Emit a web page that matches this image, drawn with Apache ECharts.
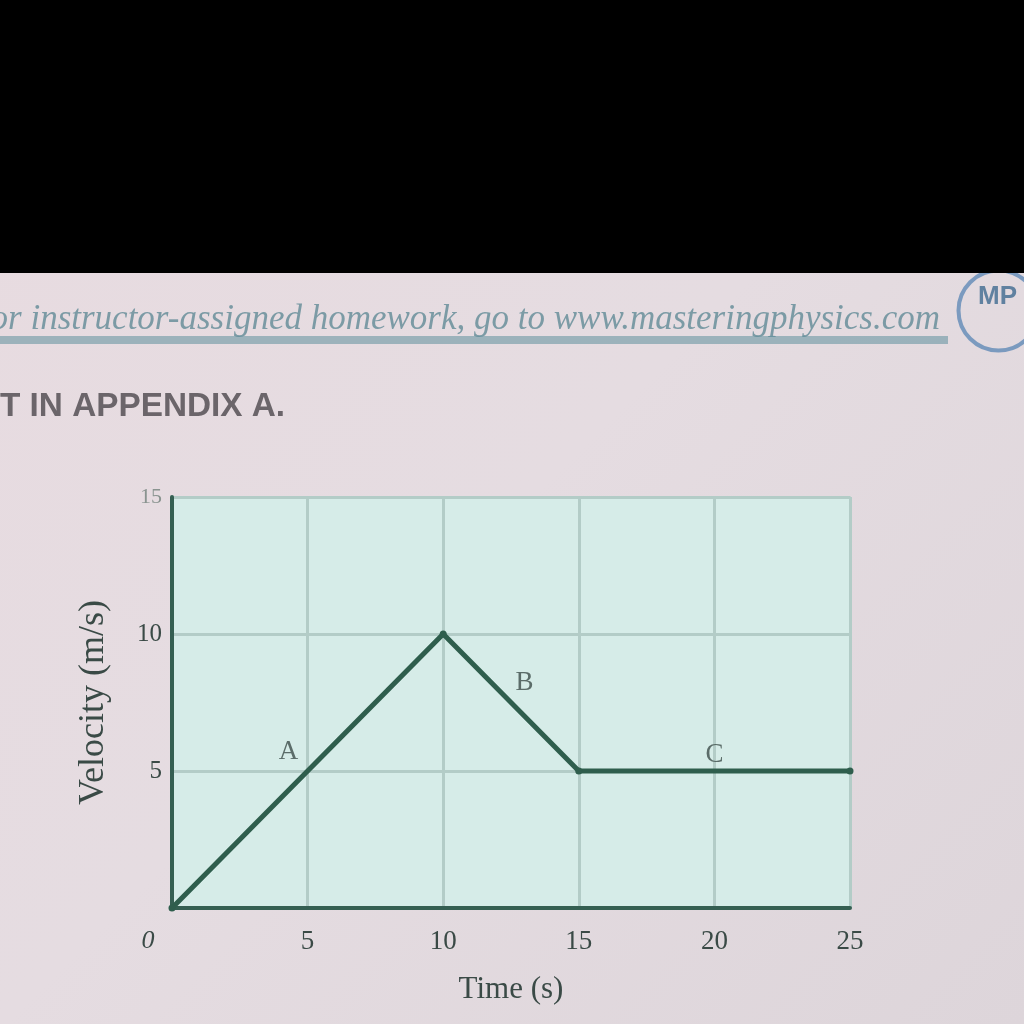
<!DOCTYPE html>
<html><head><meta charset="utf-8">
<script src="https://cdn.jsdelivr.net/npm/echarts@6/dist/echarts.min.js"></script>
<style>html,body{margin:0;padding:0;background:#e4dce0;}#c{width:1024px;height:1024px;}</style>
</head><body><div id="c"></div>
<script>
// Data
const times = [0, 10, 15, 25];
const velocities = [0, 10, 5, 5];
const segmentLabels = ['A', 'B', 'C'];
const labelTimes = [4.3, 13, 20];
const labelVelocities = [5.7, 8.2, 5.6];
const xTicks = [0, 5, 10, 15, 20, 25];
const yTicks = [0, 5, 10, 15];

const chart = echarts.init(document.getElementById('c'));
const serif = '"Liberation Serif", "DejaVu Serif", serif';
const ink = '#3a4a46';
chart.setOption({
  backgroundColor: {
    type: 'linear', x: 0, y: 0, x2: 1, y2: 1,
    colorStops: [{offset: 0, color: '#e8dbe0'}, {offset: 0.5, color: '#e5dce1'}, {offset: 1, color: '#ddd5da'}]
  },
  animation: false,
  graphic: [
    {type: 'rect', left: 0, top: 0, shape: {width: 1024, height: 273}, style: {fill: '#000'}, z: 10},
    {type: 'text', right: 84, top: 302, style: {text: 'For instructor-assigned homework, go to www.masteringphysics.com', fill: '#4f7f8c', font: 'italic 35px ' + serif, opacity: 0.7}},
    {type: 'rect', left: 0, top: 336, shape: {width: 948, height: 8}, style: {fill: '#5f909c', opacity: 0.55}},
    {type: 'circle', left: 956, top: 268, shape: {r: 40}, style: {fill: 'none', stroke: '#4f7fb0', lineWidth: 4, opacity: 0.7}},
    {type: 'text', left: 978, top: 284, style: {text: 'MP', fill: '#3f6a90', font: 'bold 26px "Liberation Sans", sans-serif', opacity: 0.8}},
    {type: 'text', left: 0, top: 390, scaleX: 0.98, style: {text: 'T IN APPENDIX A.', fill: '#555055', font: 'bold 34px "Liberation Sans", sans-serif', opacity: 0.85}}
  ],
  grid: {
    left: 172, right: 174, top: 497, bottom: 116,
    show: true, backgroundColor: '#d6ece8', borderColor: '#c6d4d1', borderWidth: 2
  },
  xAxis: {
    type: 'value', min: 0, max: 25, interval: 5,
    name: 'Time (s)', nameLocation: 'middle', nameGap: 66,
    nameTextStyle: {fontFamily: serif, fontSize: 31, color: ink},
    axisLine: {show: true, lineStyle: {color: '#355f52', width: 4}},
    axisTick: {show: false},
    splitLine: {show: true, lineStyle: {color: '#b3ccc7', width: 3}},
    axisLabel: {
      margin: 20, fontFamily: serif, fontSize: 27, color: ink,
      formatter: v => v === 0 ? '{z|0}' : String(v),
      rich: {z: {fontFamily: serif, fontSize: 26, fontStyle: 'italic', color: ink, padding: [0, 48, 0, 0]}}
    }
  },
  yAxis: {
    type: 'value', min: 0, max: 15, interval: 5,
    name: 'Velocity (m/s)', nameLocation: 'middle', nameGap: 60,
    nameTextStyle: {fontFamily: serif, fontSize: 36, color: ink},
    axisLine: {show: true, lineStyle: {color: '#355f52', width: 4}},
    axisTick: {show: false},
    splitLine: {show: true, lineStyle: {color: '#b3ccc7', width: 3}},
    axisLabel: {
      margin: 10, fontFamily: serif, fontSize: 25, color: ink,
      formatter: v => v === 0 ? '' : (v === 15 ? '{f|15}' : String(v)),
      rich: {f: {fontFamily: serif, fontSize: 22, color: '#8a9490'}}
    }
  },
  series: [
    {
      type: 'line', data: times.map((t, i) => [t, velocities[i]]),
      symbol: 'circle', symbolSize: 7, showSymbol: true,
      itemStyle: {color: '#2f5e4d'},
      lineStyle: {color: '#2f5e4d', width: 5}, z: 5
    },
    {
      type: 'scatter', symbolSize: 0,
      data: labelTimes.map((t, i) => ({value: [t, labelVelocities[i]], name: segmentLabels[i]})),
      label: {show: true, position: 'inside', formatter: p => p.name, fontFamily: serif, fontSize: 27, color: '#3c4c48'},
      z: 6
    }
  ]
});
</script></body></html>
